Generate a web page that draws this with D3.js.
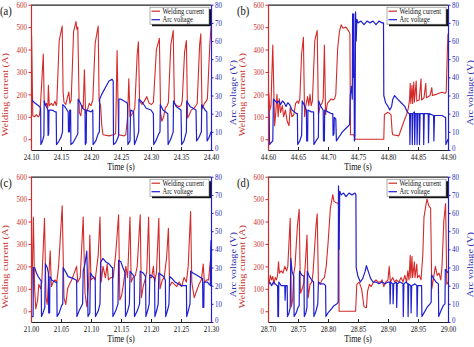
<!DOCTYPE html>
<html><head><meta charset="utf-8">
<script src="https://cdn.jsdelivr.net/npm/d3@7"></script>
<style>body{margin:0;background:#fff}svg{display:block}text{font-family:"Liberation Serif","Times New Roman",serif}</style>
</head><body><svg id="c" width="474" height="347"></svg>
<script>
// ---------- data (time offsets in ms from panel start, values) ----------
const panelLabels = ["(a)", "(b)", "(c)", "(d)"];
const timeStarts = [24.10, 44.60, 21.00, 28.70];
const timeTickLabels = [
  ["24.10","24.15","24.20","24.25","24.30","24.35","24.40"],
  ["44.60","44.65","44.70","44.75","44.80","44.85","44.90"],
  ["21.00","21.05","21.10","21.15","21.20","21.25","21.30"],
  ["28.70","28.75","28.80","28.85","28.90","28.95","29.00"]
];
const currentTicks = [0,100,200,300,400,500,600];
const voltageTicks = [0,10,20,30,40,50,60,70,80];
const seriesNames = ["Welding current", "Arc voltage"];

const currentA = [[0,300],[1,460],[3,105],[6,100],[9,110],[12,100],[14,105],[15.5,140],[20.5,380],[22,165],[24,150],[26,160],[28,140],[29,240],[30.5,150],[34,160],[37,150],[40,170],[42,150],[43,160],[47,440],[52,505],[53.5,210],[55,165],[58,155],[61,190],[63,210],[65,160],[67,175],[71,480],[75,525],[76.5,490],[78,500],[80.5,120],[83,105],[85,150],[87,140],[89,310],[91,115],[94,130],[97,160],[100,150],[103,175],[107,430],[112,505],[113.5,170],[116,150],[118,60],[120,20],[130,15],[137,20],[141,25],[143.5,395],[146,20],[155,15],[158,20],[161,100],[163,270],[165,100],[168,110],[171,125],[173,140],[177,380],[179,435],[181,170],[185,155],[189,170],[193,190],[197,160],[201,155],[204,165],[209,400],[214,450],[216,120],[218,80],[221,100],[224,140],[227,150],[229,165],[233,420],[237,485],[239,160],[243,150],[247,145],[250,150],[252,170],[256,390],[259,440],[261,95],[264,110],[267,130],[272,140],[275,150],[277,160],[281,420],[283,470],[285,135],[289,160],[292,170],[294,180],[298,420],[300,500]];
const voltageA = [[0,18],[0.5,28],[3,27],[6,26],[10,25],[14,24],[16,23],[16.5,3],[18,4],[20,6],[21.5,8],[22,27],[24,25],[27,23],[28,22],[28.5,8],[29.5,9],[30,22],[35,22],[40,21],[42,21],[42.5,3],[45,4],[50,7],[52.5,10],[53,25],[56,24],[60,22],[62,21],[62.5,10],[64,10],[64.5,22],[66,22],[66.5,3],[70,4],[75,7],[78,9],[78.5,28],[82,26],[86,23],[90,22],[90.5,3],[92,4],[92.5,22],[100,21],[103,22],[103.5,3],[108,5],[112,9],[114,10],[114.5,28],[117,30],[120,32],[125,35],[130,38],[135,39],[137,38],[137.5,3],[141,4],[144,6],[146,8],[146.5,28],[150,28],[155,27],[160,26],[161,25],[161.5,3],[165,5],[166,22],[171,21],[172.5,3],[176,6],[179.5,10],[180,28],[186,26],[192,23],[200,22],[204,20],[204.5,3],[208,5],[213,9],[215,10],[215.5,25],[220,22],[228,20],[228.5,3],[233,6],[237,10],[237.5,27],[242,24],[250,22],[251,3],[255,5],[259,10],[259.5,27],[265,24],[275,22],[276,5],[280,7],[284,10],[284.5,25],[290,22],[293,21],[293.5,5],[297,7],[300,10]];

const currentB = [[0,230],[1.5,200],[3,130],[5,150],[6,250],[8,420],[9,300],[11,60],[13,120],[15,200],[17,100],[19,180],[21,120],[24,150],[26,100],[29,130],[32,80],[35,60],[37,140],[40,100],[43,110],[46,160],[49,170],[51,160],[53,180],[56,380],[59,455],[61,100],[63,150],[66,190],[68,150],[70,200],[72,150],[74,170],[78,440],[82,485],[84,110],[87,150],[90,160],[92,180],[94,420],[96,110],[99,160],[102,170],[105,180],[108,175],[111,180],[113,200],[116,400],[119,480],[122,510],[125,495],[130,500],[135,480],[136.5,470],[137.5,20],[143,20],[145,0],[193,0],[194,110],[200,120],[205,110],[207,30],[208,20],[218,15],[220,30],[224,60],[228,90],[231,110],[234,140],[236,180],[237,250],[238,160],[240,240],[241,160],[243,255],[244,165],[247,260],[248,170],[252,175],[255,270],[256,175],[260,185],[263,250],[264,185],[270,195],[273,230],[274,195],[280,200],[285,205],[290,210],[295,205],[297,210],[299,400],[300,470]];
const voltageB = [[0,22],[2,22],[2.5,3],[5,4],[8,5],[9,28],[12,27],[15,26],[18,27],[21,25],[24,27],[27,26],[30,24],[33,26],[36,25],[40,22],[44,21],[48,20],[49,20],[49.5,3],[53,5],[56,8],[57,27],[60,25],[64,22],[64.5,5],[66,5],[66.5,22],[72,21],[76,21],[76.5,3],[80,5],[84,7],[84.5,27],[88,24],[92,22],[92.5,5],[94,5],[94.5,22],[100,21],[106,20],[108,20],[108.5,8],[110,9],[110.5,18],[113,17],[114,5],[118,7],[124,10],[130,12],[136,14],[137,30],[139,35],[140.5,28],[141,75],[142,40],[143,75],[144,5],[145,8],[146,76],[147,60],[148,72],[150,70],[155,71],[160,69],[165,71],[170,70],[175,71],[180,69],[185,71],[190,70],[192.5,70],[193,30],[196,26],[200,24],[203,22],[206,24],[208,28],[211,30],[216,28],[222,26],[228,24],[232,21],[235,20],[236,20],[236.5,3],[237.5,20],[240,20],[240.5,3],[241.5,20],[244,21],[244.5,3],[245.5,20],[248,20],[248.5,3],[249.5,20],[252,20],[252.5,3],[253.5,20],[259,20],[259.5,3],[260.5,20],[267,20],[267.5,4],[268.5,20],[276,19],[276.5,5],[277.5,19],[285,19],[290,19],[295,18],[296,18],[296.5,3],[299,5],[300,6]];

const currentC = [[0,-10],[2,150],[4,420],[6,100],[8,10],[11,50],[13,120],[16,100],[18,130],[22.5,415],[25,60],[27,30],[29,120],[32,270],[34,110],[37,130],[40,140],[43,130],[46,200],[52,470],[55,60],[58,30],[61,100],[64,120],[68,140],[72,170],[76,200],[78,130],[82,150],[87,420],[90,80],[93,20],[96,120],[98,340],[100,140],[104,150],[107,140],[112,250],[115,420],[117,130],[120,200],[124,150],[127,210],[129,140],[133,150],[137,150],[141,250],[146,430],[148,50],[151,70],[154,120],[158,200],[161,150],[165,420],[167,130],[170,150],[174,160],[177,200],[182,430],[184,60],[187,110],[191,150],[193,180],[196,420],[198,150],[201,150],[204,200],[206,130],[209,170],[213,415],[215,100],[219,140],[222,150],[226,240],[229,370],[231,110],[235,130],[239,120],[243,110],[247,130],[251,110],[255,150],[259,130],[262,200],[266,445],[268,130],[272,60],[276,90],[280,120],[284,140],[287,210],[289,130],[293,140],[296,140],[298,200],[300,250]];
const voltageC = [[0,3],[3.5,3],[4,30],[6,30],[9,27],[12,25],[16,23],[17,23],[17.5,3],[20,5],[23,8],[24,32],[27,30],[29,27],[29.5,5],[31,5],[31.5,25],[35,23],[40,22],[43,22],[43.5,3],[47,5],[51,9],[53,10],[53.5,30],[57,28],[62,25],[70,24],[76,23],[76.5,3],[80,6],[86,10],[87,28],[90,32],[93,39],[94,25],[95,3],[98,5],[99,27],[103,25],[107,24],[107.5,3],[112,6],[115,10],[116,33],[120,35],[125,33],[130,32],[135,30],[136,30],[136.5,3],[141,6],[145,10],[146,34],[150,33],[153,30],[157,27],[157.5,3],[161,6],[164,10],[165,28],[170,26],[172,25],[172.5,3],[177,6],[181,10],[182,28],[187,27],[191,25],[191.5,3],[195,7],[197,10],[198,26],[203,25],[206,24],[206.5,3],[210,7],[212,10],[213,27],[217,26],[221,25],[224,23],[224.5,3],[228,7],[230,10],[231,25],[235,24],[240,22],[245,21],[250,20],[256,20],[259,20],[259.5,3],[262,6],[265,10],[266,28],[270,27],[275,26],[280,25],[285,24],[286,24],[286.5,8],[288,8],[288.5,22],[294,22],[299,20],[299.5,40],[300,45]];

const currentD = [[0,150],[2,130],[4,160],[6,140],[8,155],[10,120],[12,150],[14,140],[16,160],[17.5,220],[19,170],[22,180],[25,170],[28,200],[31,180],[33,200],[37,415],[39,20],[41,50],[43,170],[45,200],[49,380],[52,455],[54,80],[57,100],[60,130],[62,200],[65,340],[67,60],[70,120],[73,130],[75,170],[80,380],[82,435],[84,130],[87,120],[90,140],[94,150],[97,200],[100,300],[104,460],[108,520],[110,490],[113,485],[117,480],[118,470],[118.5,0],[146,0],[148,120],[152,130],[156,100],[158,60],[160,20],[164,15],[166,90],[169,120],[172,110],[176,130],[180,140],[184,130],[188,130],[190,140],[193,110],[196,130],[200,140],[202,200],[204,130],[208,150],[211,130],[214,140],[218,130],[222,150],[225,130],[228,160],[231,130],[233,180],[235,140],[237,250],[238,150],[240,245],[241,150],[244,220],[245,150],[248,210],[249,150],[252,160],[255,140],[258,250],[260,420],[263,470],[265,500],[268,470],[271,460],[273,100],[276,150],[279,200],[282,160],[285,170],[288,140],[290,200],[293,400],[296,480],[298,120],[300,130]];
const voltageD = [[0,20],[3,22],[6,20],[9,22],[12,21],[15,20],[16,20],[16.5,3],[17.5,3],[18,22],[22,20],[26,20],[28,20],[28.5,12],[29.5,20],[32,20],[32.5,3],[35,5],[37,8],[38,35],[40,28],[43,25],[43.5,3],[47,5],[50,8],[52,9],[52.5,28],[56,26],[60,25],[60.5,3],[63,5],[65,8],[65.5,28],[69,25],[73,23],[76,22],[76.5,3],[80,6],[83,10],[84,22],[88,21],[93,21],[96,20],[96.5,3],[100,5],[105,7],[110,9],[115,10],[117,11],[117.5,75],[118.5,40],[119.5,72],[122,70],[126,71],[130,69],[135,71],[140,70],[145,71],[146.5,70],[147,30],[150,25],[154,22],[158,24],[162,28],[164,31],[167,28],[171,24],[175,22],[180,22],[185,21],[190,22],[195,21],[200,22],[203,22],[203.5,10],[204.5,22],[208,21],[208.5,10],[209.5,21],[214,22],[214.5,8],[215.5,21],[220,22],[225,21],[225.5,3],[226.5,21],[230,22],[233,21],[233.5,3],[234.5,21],[238,20],[238.5,5],[239.5,20],[245,21],[248,20],[248.5,3],[249.5,20],[255,20],[256,20],[256.5,3],[260,5],[265,8],[270,10],[272,11],[272.5,26],[276,24],[280,22],[284,21],[284.5,3],[288,6],[292,9],[295,10],[295.5,29],[298,28],[300,27]];

const currentSeries = [currentA, currentB, currentC, currentD];
const voltageSeries = [voltageA, voltageB, voltageC, voltageD];

// ---------- layout / style ----------
const RED = "#d42a2a", BLUE = "#1f1fcf";
const RED_TXT = "#c8302c", BLUE_TXT = "#2a2ab0";
const SX = 0.85; // horizontal squeeze of glyphs
const pw = 180, ph = 145.3;
const origins = [[31,4.7],[268,4.7],[31,176.7],[268,176.7]];

const svg = d3.select("#c");
function squeeze(sel){
  sel.each(function(){
    const t = d3.select(this);
    const xv = +t.attr("x") || 0;
    t.attr("x", 0).attr("transform", `translate(${xv},0) scale(${SX},1)`);
  });
}
function label(g, x, y, str, size, fill, anchor, rot){
  g.append("text")
    .attr("transform", `translate(${x},${y}) scale(${SX},1)` + (rot ? ` rotate(${rot})` : ""))
    .attr("text-anchor", anchor).attr("font-size", size).attr("fill", fill).text(str);
}

panelLabels.forEach((lab, i) => {
  const [ox, oy] = origins[i];
  const t0 = timeStarts[i];
  const g = svg.append("g").attr("transform", `translate(${ox},${oy})`);
  const x = d3.scaleLinear().domain([t0, t0 + 0.3]).range([0, pw]);
  const yL = d3.scaleLinear().domain([-48, 600]).range([ph, 0]);
  const yR = d3.scaleLinear().domain([0, 80]).range([ph, 0]);

  const cid = "clip" + i;
  g.append("clipPath").attr("id", cid).append("rect").attr("width", pw).attr("height", ph);
  const plot = g.append("g").attr("clip-path", `url(#${cid})`);

  const lineC = d3.line().x(d => x(t0 + d[0] / 1000)).y(d => yL(d[1]));
  const lineV = d3.line().x(d => x(t0 + d[0] / 1000)).y(d => yR(d[1]));
  plot.append("path").datum(currentSeries[i]).attr("d", lineC)
    .attr("fill", "none").attr("stroke", RED).attr("stroke-width", 1.1).attr("stroke-linejoin", "round");
  plot.append("path").datum(voltageSeries[i]).attr("d", lineV)
    .attr("fill", "none").attr("stroke", BLUE).attr("stroke-width", 1.2).attr("stroke-linejoin", "round");

  // top border
  g.append("line").attr("x1", 0).attr("x2", pw).attr("y1", 0.5).attr("y2", 0.5).attr("stroke", "#222").attr("stroke-width", 1.2);

  // axes
  const ax = g.append("g").attr("transform", `translate(0,${ph})`)
    .call(d3.axisBottom(x).tickValues(timeTickLabels[i].map(Number)).tickFormat(d3.format(".2f"))
      .tickSizeInner(-3).tickSizeOuter(0).tickPadding(4));
  ax.select(".domain").attr("stroke", "#222").attr("stroke-width", 1.2);
  ax.selectAll(".tick line").attr("stroke", "#222");
  ax.selectAll("text").attr("font-size", 8.2).attr("fill", "#111").attr("font-family", "Liberation Serif, serif").call(squeeze);

  const al = g.append("g").call(d3.axisLeft(yL).tickValues(currentTicks).tickSizeInner(2.5).tickSizeOuter(0).tickPadding(1.5));
  al.select(".domain").attr("stroke", RED).attr("stroke-width", 1.2);
  al.selectAll(".tick line").attr("stroke", RED);
  al.selectAll("text").attr("font-size", 8.2).attr("fill", RED_TXT).attr("font-family", "Liberation Serif, serif").call(squeeze);

  const ar = g.append("g").attr("transform", `translate(${pw},0)`)
    .call(d3.axisRight(yR).tickValues(voltageTicks).tickSizeInner(2.5).tickSizeOuter(0).tickPadding(1.5));
  ar.select(".domain").attr("stroke", BLUE).attr("stroke-width", 1.2);
  ar.selectAll(".tick line").attr("stroke", BLUE);
  ar.selectAll("text").attr("font-size", 8.2).attr("fill", BLUE_TXT).attr("font-family", "Liberation Serif, serif").call(squeeze);
  ar.selectAll(".tick").filter(d => d === 0).select("text").attr("dy", "0.08em");

  // titles
  label(g, pw / 2, ph + 19.8, "Time (s)", 9.6, "#111", "middle");
  label(g, -23, 90, "Welding current (A)", 10.3, RED_TXT, "middle", -90);
  label(g, pw + 25, 88, "Arc voltage (V)", 10.3, BLUE_TXT, "middle", -90);
  label(g, -31, 10.5, lab, 12.5, "#111", "start");

  // legend
  const lg = g.append("g").attr("transform", `translate(${pw - 61},2.5)`);
  lg.append("rect").attr("x", 2).attr("y", 2).attr("width", 59).attr("height", 17).attr("fill", "#111");
  lg.append("rect").attr("x", 0).attr("y", 0).attr("width", 59).attr("height", 17).attr("fill", "#fff").attr("stroke", "#777").attr("stroke-width", 0.6);
  [[RED, seriesNames[0], 4], [BLUE, seriesNames[1], 12.5]].forEach(([c, n, yy]) => {
    lg.append("line").attr("x1", 1.5).attr("x2", 10).attr("y1", yy).attr("y2", yy).attr("stroke", c).attr("stroke-width", 1.2);
    label(lg, 12.5, yy + 2.5, n, 7.6, "#111", "start");
  });
});
</script></body></html>
